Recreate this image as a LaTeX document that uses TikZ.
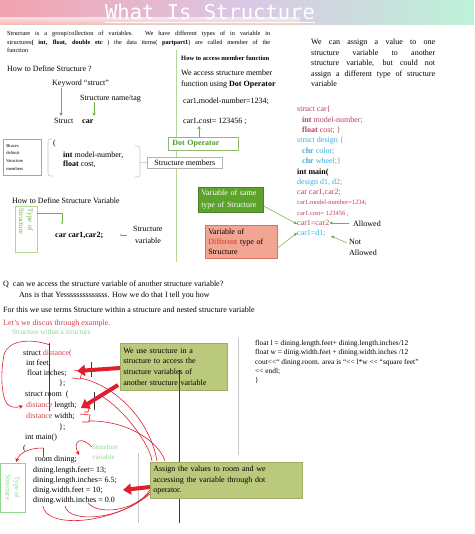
\documentclass[tikz,border=0pt]{standalone}
\usepackage{fontspec}
\setmainfont{Liberation Serif}
\newfontfamily\titlefont{DejaVu Sans Mono}
\usetikzlibrary{arrows.meta}
\definecolor{gline}{HTML}{6CB245}
\definecolor{gpale}{HTML}{B2D79A}
\definecolor{gbord}{HTML}{8DBB6E}
\definecolor{gtext}{HTML}{4E9A2E}
\definecolor{gfill}{HTML}{5EA22E}
\definecolor{sfill}{HTML}{F2A593}
\definecolor{sbord}{HTML}{D9725E}
\definecolor{difred}{HTML}{E0301E}
\definecolor{maroon}{HTML}{B8405E}
\definecolor{cyancode}{HTML}{3AAEE0}
\definecolor{letred}{HTML}{D2404E}
\definecolor{lgreen}{HTML}{8ED68E}
\definecolor{ofill}{HTML}{BAC97C}
\definecolor{obord}{HTML}{9EAE62}
\definecolor{annred}{HTML}{E01E2E}
\definecolor{bpink}{HTML}{F2A2AE}
\definecolor{blav}{HTML}{DCC6E4}
\definecolor{bmint}{HTML}{BDF2D8}
\definecolor{bpeach}{HTML}{F6C8A8}
\definecolor{brkgrey}{HTML}{C4C4C4}
\definecolor{scangrey}{HTML}{C8C8C8}
\definecolor{scandark}{HTML}{3A3A3A}
\begin{document}
\begin{tikzpicture}[x=1pt,y=-1pt,
  txt/.style={anchor=base west,inner sep=0pt,font=\fontsize{8}{9.6}\selectfont},
  smtxt/.style={anchor=base west,inner sep=0pt,font=\fontsize{6.5}{7.5}\selectfont},
  paratxt/.style={anchor=base west,inner sep=0pt,font=\fontsize{6.3}{7.5}\selectfont},
  codetwo/.style={anchor=base west,inner sep=0pt,font=\fontsize{7.4}{8}\selectfont},
  garrow/.style={draw=gline,line width=0.5pt,-{Triangle[length=3pt,width=3pt]}},
  gconn/.style={draw=gline,line width=0.5pt},
  boxgreen/.style={draw=gbord,fill=white,line width=0.6pt,inner sep=0pt},
  redthin/.style={draw=annred,line width=0.6pt},
  redarrow/.style={draw=annred,line width=0.6pt,-{Stealth[length=4pt,width=4pt]}},
  redthick/.style={draw=annred,line width=4pt,-{Triangle[length=8pt,width=11pt]}},
  scanline/.style={draw=scandark,line width=0.7pt},
  scanpale/.style={draw=scangrey,line width=0.6pt},
]
\useasboundingbox (0,0) rectangle (474,534);
\fill[white] (0,0) rectangle (474,534);
% banner
\shade[left color=bpink,right color=blav] (0,0) rectangle (237,25);
\shade[left color=blav,right color=bmint] (237,0) rectangle (474,25);
\shade[top color=bpeach!0,bottom color=bpeach,opacity=0.6] (0,18) rectangle (300,25);
\node[anchor=base,inner sep=0pt,text=white,font=\titlefont\fontsize{20.5}{20.5}\selectfont] (title) at (210,19.5) {What Is Structure};
\draw[white,line width=0.8pt] (title.base west) ++(0,2.5) -- ++(210,0);

% top paragraph
\node[paratxt] (p1) at (7,36) {\makebox[263pt][s]{Structure is a group/collection of variables. We have different types of in variable in}};
\node[paratxt] (p2) at (7,45) {\makebox[263pt][s]{structures\textbf{( int, float, double etc} ) the data items( \textbf{partpart1}) are called member of the}};
\node[paratxt] (p3) at (7,53) {function};

% right paragraph
\node[txt] (q1) at (311,44.5) {\makebox[124pt][s]{We can assign a value to one}};
\node[txt] (q2) at (311,55.5) {\makebox[124pt][s]{structure variable to another}};
\node[txt] (q3) at (311,65.5) {\makebox[124pt][s]{structure variable, but could not}};
\node[txt] (q4) at (311,76.5) {\makebox[124pt][s]{assign a different type of structure}};
\node[txt] (q5) at (311,86.5) {variable};

% how to define structure
\node[txt] (hdef) at (7,72) {How to Define Structure ?};
\node[txt] (kw) at (52,86) {Keyword “struct”};
\node[txt] (tag) at (80,100.5) {Structure name/tag};
\node[txt] (st) at (54,124) {Struct};
\node[txt,font=\fontsize{8}{9.6}\selectfont\bfseries] (car) at (82,124) {car};
\coordinate (kwa) at (61,116);
\coordinate (taga) at (94,116);
\draw[garrow] (kw.south -| kwa) -- (kwa);
\draw[garrow] (tag.south -| taga) -- (taga);

% vertical green divider
\coordinate (vtop) at (176,50);
\coordinate (vbot) at (176,262);
\draw[draw=gpale,line width=0.7pt] (vtop) -- (vbot);

% access member
\node[anchor=base west,inner sep=0pt,font=\fontsize{6.5}{7.5}\selectfont\bfseries] (acc) at (181,61) {How to access member function};
\node[txt] (acc1) at (181,75.5) {We access structure member};
\node[txt] (acc2) at (181,86.5) {function using \textbf{Dot Operator}};
\node[txt] (c1) at (183,103.5) {car1\textbf{.}model-number=1234;};
\node[txt] (c2) at (183,123.5) {car1\textbf{.}cost= 123456 ;};
\node[boxgreen,minimum width=70pt,minimum height=13pt,anchor=north west,text=gtext,font=\fontsize{8}{9.6}\selectfont\bfseries,align=left,text width=62pt] (dotop) at (168,137) {Dot Operator};
\coordinate (dotpt) at (199,126);
\draw[garrow] (dotop.north -| dotpt) -- (dotpt);

% braces section
\node[draw=gbord,line width=0.6pt,anchor=north west,minimum width=38pt,minimum height=36pt,inner sep=2pt,align=left,text width=32pt,font=\fontsize{4.6}{7.6}\selectfont] (braces) at (3,139) {Braces\\delimit\\Structure\\members};
\draw[brkgrey,line width=0.6pt] (53,139) .. controls (48,139) .. (48,144) -- (48,171) .. controls (48,176) .. (53,176);
\node[txt] (lbr) at (53,146) {(};
\node[txt] (m1) at (63,157.5) {\textbf{int} model-number,};
\node[txt] (m2) at (63,166.5) {\textbf{float} cost,};
\draw[brkgrey,line width=0.6pt] (135,146) .. controls (140,146) .. (140,151) -- (140,172) .. controls (140,177) .. (135,177);
\node[boxgreen,draw=gray!60,minimum width=75pt,minimum height=11pt,anchor=north west,font=\fontsize{8}{9.6}\selectfont] (smem) at (147,157) {Structure members};
\coordinate (brR) at (140,162.5);
\draw[brkgrey,line width=0.6pt] (brR) -- (smem.west);

% define structure variable
\node[txt] (hvar) at (12,203.5) {How to Define Structure Variable};
\node[draw=gpale,line width=0.6pt,rotate=-90,minimum width=46pt,minimum height=22pt,inner sep=2pt,text width=40pt,align=left,text=gline,font=\fontsize{7}{9}\selectfont] (typ1) at (26,229) {Type of\\Structure};
\node[txt,font=\fontsize{8}{9.6}\selectfont\bfseries] (cv) at (55,237.5) {car car1,car2;};
\coordinate (tdot) at (62,223);
\draw[gconn] (typ1.north |- 0,213) -- (62,213) -- (tdot);
\fill[gline] (tdot) circle (0.9pt);
\node[txt] (sv1) at (133,231.5) {Structure};
\node[txt] (sv2) at (135,243.5) {variable};
\coordinate (svdot) at (121,235);
\draw[gconn] (127,235) -- (svdot);
\fill[gline] (svdot) circle (0.9pt);

% right code
\node[txt,text=maroon] (k1) at (297,111.5) {struct car\{};
\node[txt,text=maroon] (k2) at (302,122.5) {\textbf{int} model-number;};
\node[txt,text=maroon] (k3) at (302,132.5) {\textbf{float} cost; \}};
\node[txt,text=cyancode] (k4) at (297,142.5) {struct design \{};
\node[txt,text=cyancode] (k5) at (302,153.5) {\textbf{chr} color;};
\node[txt,text=cyancode] (k6) at (302,163.5) {\textbf{chr} wheel;\}};
\node[txt,font=\fontsize{8}{9.6}\selectfont\bfseries] (k7) at (297,174.5) {int main(};
\node[txt,text=cyancode] (k8) at (297,185) {design d1, d2;};
\node[txt,text=maroon] (k9) at (297,194.5) {car car1,car2;};
\node[smtxt,text=maroon] (k10) at (297,205) {car1.model-number=1234;};
\node[smtxt,text=maroon] (k11) at (297,215) {car1.cost= 123456 ;};
\node[txt,text=maroon] (k12) at (297,225.5) {car1=car2};
\node[txt,text=cyancode] (k13) at (297,235.5) {car1=d1;};
\node[txt] (allow) at (353,226.5) {Allowed};
\node[txt] (nota) at (349,244.5) {Not};
\node[txt] (notb) at (349,255.5) {Allowed};
\draw[garrow] (allow.west |- 0,223) ++(-4,0) -- (k12.east |- 0,223);
\draw[garrow] (nota.west) ++(-2,1) -- (331,236);

% variable boxes
\node[draw=gfill!80!black,fill=gfill,line width=0.5pt,anchor=north west,minimum width=65pt,minimum height=25pt,inner sep=3pt,text width=59pt,align=left,text=white,font=\fontsize{8}{11.5}\selectfont] (same) at (198,187) {Variable of same\\type of Structure};
\node[draw=sbord,fill=sfill,line width=0.5pt,anchor=north west,minimum width=72pt,minimum height=33pt,inner sep=3pt,text width=66pt,align=left,font=\fontsize{8}{10}\selectfont] (diff) at (205,225) {Variable of\\\textcolor{difred}{Different} type of\\Structure};
\draw[garrow] (same.east |- 0,206) -- (k12.west |- 0,224);
\draw[garrow] (diff.east |- 0,248) -- (k13.west |- 0,233);

% middle text
\node[txt] (qq) at (3,286.5) {Q\enspace can we access the structure variable of another structure variable?};
\node[txt] (ans) at (19,297.5) {Ans is that Yessssssssssssss. How we do that I tell you how};
\node[txt] (forthis) at (3,312.5) {For this we use terms Structure within a structure and nested structure variable};
\node[txt,text=letred] (lets) at (3,325.5) {Let's we discus through example.};
\node[anchor=base west,inner sep=0pt,text=lgreen,font=\fontsize{7.2}{8}\selectfont] (sws) at (12,334.5) {Structure within a structure};

% scan lines
\draw[scanline] (49,343) -- (49,411);
\draw[scanline] (91,362) -- (91,377);
\draw[scanline] (94,392) -- (94,410);
\draw[scanpale] (238,338) -- (238,455);
\draw[scanpale] (138,453) -- (138,523);

% lower code
\node[txt] (d1) at (23,355.5) {struct \textcolor{letred}{distance(}};
\node[txt] (d2) at (26,365.5) {int feet,};
\node[txt] (d3) at (27,375.5) {float inches;};
\node[txt] (d4) at (59,385.5) {\};};
\node[txt] (d5) at (25,396.5) {struct room\enspace(};
\node[txt] (d6) at (26,407.5) {\textcolor{letred}{distance} length;};
\node[txt] (d7) at (26,418.5) {\textcolor{letred}{distance} width;};
\node[txt] (d8) at (59,429.5) {\};};
\node[txt] (d9) at (25,439.5) {int main()};
\node[txt] (d10) at (23,450.5) {(};
\node[txt] (d11) at (35,461.5) {room dining;};
\node[txt] (d12) at (33,472.5) {dining.length.feet= 13;};
\node[txt] (d13) at (33,482.5) {dining.length.inches= 6.5;};
\node[txt] (d14) at (33,492.5) {dinig.width.feet = 10;};
\node[txt] (d15) at (33,502.5) {dining.width.inches = 0.0};

% lower right code
\node[codetwo] (r1) at (255,345) {float l = dining.length.feet+ dining.length.inches/12};
\node[codetwo] (r2) at (255,354.5) {float w = dinig.width.feet + dining.width.inches /12};
\node[codetwo] (r3) at (255,364) {cout<{}<“ dining.room. area is “<{}< l*w <{}< “square feet”};
\node[codetwo] (r4) at (255,373.5) {<{}< endl;};
\node[codetwo] (r5) at (255,382.5) {\}};

% olive boxes
\node[draw=obord,fill=ofill,line width=0.5pt,anchor=north west,minimum width=107pt,minimum height=47pt,inner sep=3pt,text width=101pt,align=left,font=\fontsize{8}{10.9}\selectfont] (ob1) at (120,343) {We use structure in a\\structure to access the\\structure variables of\\another structure variable};
\draw[scanline] (179,370) -- (179,523);
\node[draw=obord,fill=ofill,line width=0.5pt,anchor=north west,minimum width=152pt,minimum height=36pt,inner sep=3pt,text width=146pt,align=left,font=\fontsize{8}{10.6}\selectfont] (ob2) at (150,462) {Assign the values to room and we\\accessing the variable through dot\\operator.};

% lower labels
\node[draw=lgreen,line width=0.6pt,rotate=-90,minimum width=49pt,minimum height=25pt,inner sep=2pt,align=center,text=lgreen,font=\fontsize{7}{9}\selectfont] (typ2) at (12.8,487.5) {Type of\\Structure};
\node[anchor=base west,inner sep=0pt,text=lgreen,font=\fontsize{7}{8}\selectfont] (svl1) at (92,449.5) {Structure};
\node[anchor=base west,inner sep=0pt,text=lgreen,font=\fontsize{7}{8}\selectfont] (svl2) at (92,459.5) {variable};

% red annotations (upper)
\coordinate (loopS) at (50,345);
\coordinate (loopE) at (23,406);
\draw[redarrow] (loopS) .. controls (30,338) and (8,340) .. (4,355) .. controls (1,370) and (1,390) .. (5,400) .. controls (8,408) and (15,408) .. (loopE);
\coordinate (ta1) at (77,371);
\coordinate (ta2) at (81,408);
\draw[redthick] (ob1.west |- 0,368) -- (ta1);
\draw[redthick] (118,385) -- (ta2);
\draw[redthin] (74,370) -- (82,372) -- (80,379) -- (72,378);
\draw[redthin] (84,403) -- (90,405) -- (88,412) -- (84,412);
\draw[redthin] (80,414) -- (90,415) -- (89,422) -- (82,422);
\draw[redthin] (80,378) .. controls (115,385) and (150,420) .. (157,461);
\draw[redthin] (88,421) .. controls (125,420) and (158,440) .. (165,461);
\draw[redthin] (100,395) .. controls (125,410) and (150,445) .. (152,461);

% red annotations (lower)
\coordinate (typtop) at (16,462);
\draw[redthin] (43,457) -- (43,448);
\draw[redarrow] (43,448) .. controls (30,448) and (20,452) .. (typtop);
\coordinate (dinend) at (79,455);
\draw[redarrow] (svl1.west) .. controls (82,436) and (72,440) .. (dinend);
\coordinate (ta3) at (123,490);
\draw[redthick] (ob2.west |- 0,487) -- (ta3);
\draw[redthin] (43,506) .. controls (45,528) and (110,526) .. (150,494);
\draw[redthin] (65,506) .. controls (68,524) and (125,520) .. (150,492);
\draw[redthin] (88,503) .. controls (98,515) and (135,512) .. (150,490);
\end{tikzpicture}
\end{document}
